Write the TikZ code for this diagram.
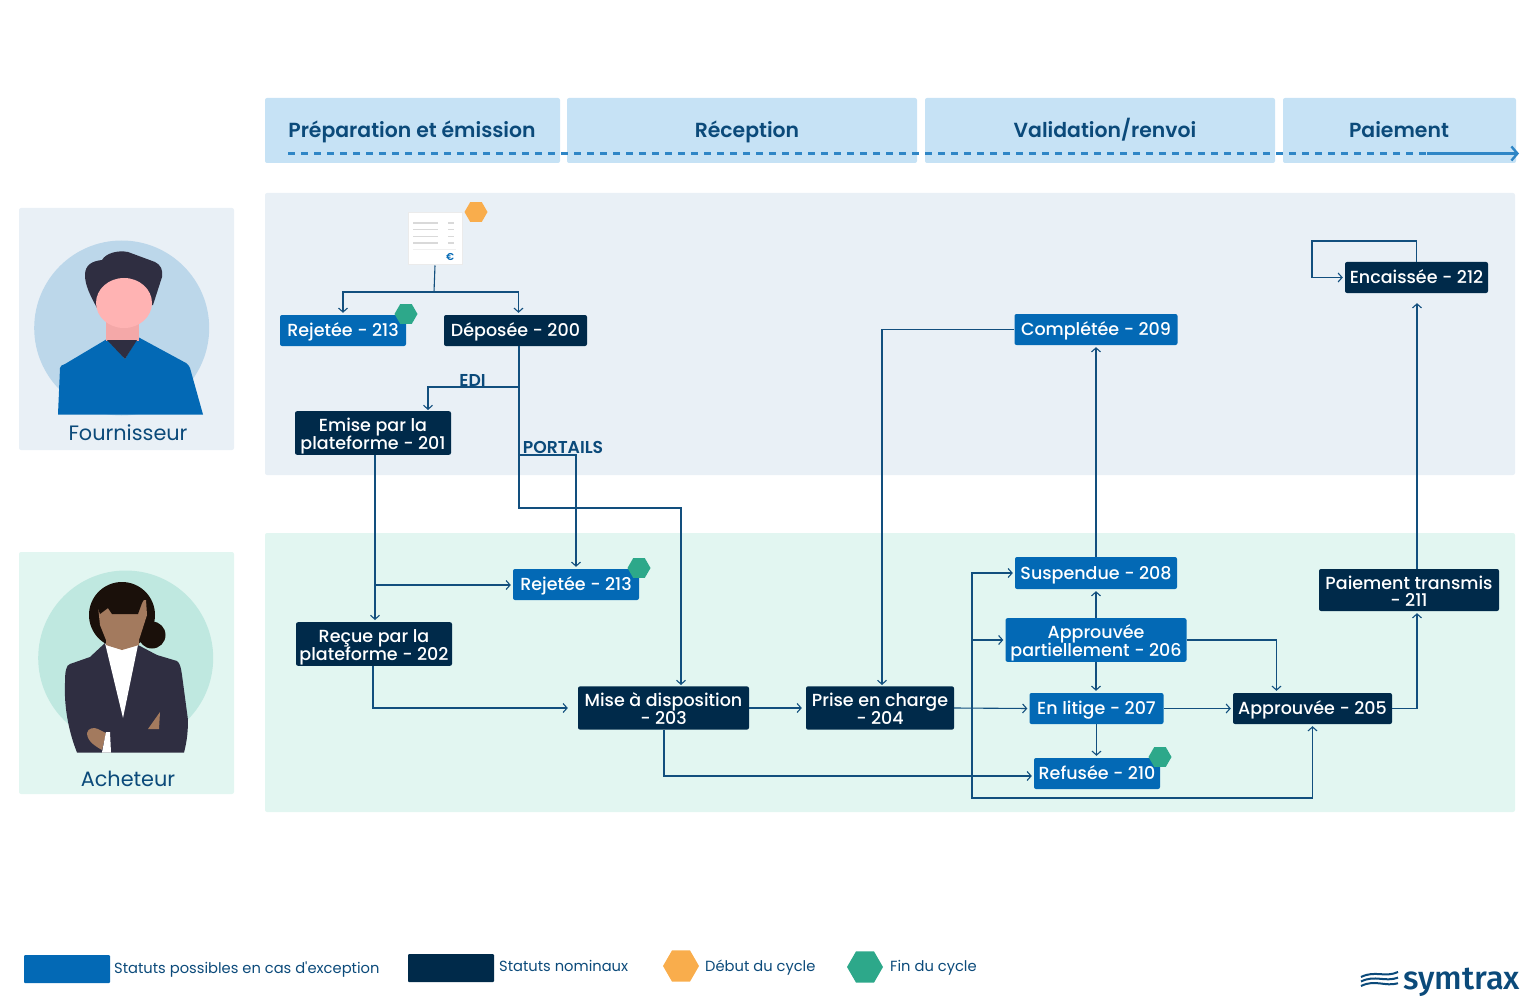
\documentclass[tikz,border=0pt]{standalone}
\usepackage{fontspec}
\setmainfont{Poppins}[UprightFont=* Medium, BoldFont=* SemiBold]
\newfontfamily\plainfont{Poppins}
\newfontfamily\logofont{Fira Sans Medium}
\usetikzlibrary{shapes.geometric, arrows.meta, calc}
\definecolor{navy}{HTML}{002A4A}
\definecolor{blu}{HTML}{0369B5}
\definecolor{ink}{HTML}{0B4A7A}
\definecolor{wire}{HTML}{124F7E}
\definecolor{sky}{HTML}{C6E2F5}
\definecolor{paleblue}{HTML}{E9F0F6}
\definecolor{palegreen}{HTML}{E2F6F1}
\definecolor{dashblue}{HTML}{2F86C6}
\definecolor{orangehex}{HTML}{F9AD4C}
\definecolor{greenhex}{HTML}{2DA88A}
\definecolor{suit}{HTML}{2F2E41}
\definecolor{skin}{HTML}{A37A5E}
\definecolor{pink}{HTML}{FFB3B3}
\definecolor{neck}{HTML}{F4A8A8}
\definecolor{hair}{HTML}{1A100A}
\definecolor{discblue}{HTML}{BCD7EA}
\definecolor{discgreen}{HTML}{BFE8E0}
\newcommand{\twolines}[2]{\rule{0pt}{20pt}#1\\[-0.5pt]#2\rule[-5pt]{0pt}{5pt}}
\tikzstyle{statusbox} = [rectangle, rounded corners=2pt, fill=navy, text=white, inner sep=0pt, align=center, font=\fontsize{17.5}{17.5}\selectfont]
\tikzstyle{nominal} = [statusbox, minimum height=31pt, text height=16pt, text depth=4pt]
\tikzstyle{exception} = [nominal, fill=blu]
\tikzstyle{nominaltwo} = [statusbox, minimum height=42pt]
\tikzstyle{exceptiontwo} = [nominaltwo, fill=blu]
\tikzstyle{phase} = [rectangle, rounded corners=2pt, fill=sky, minimum height=65pt, inner sep=0pt]
\tikzstyle{phasetext} = [text=ink, anchor=base, font=\fontsize{20.4}{20}\selectfont\bfseries, inner sep=0pt]
\tikzstyle{panel} = [rectangle, rounded corners=2pt, inner sep=0pt]
\tikzstyle{hexa} = [regular polygon, regular polygon sides=6, inner sep=0pt, minimum size=23pt]
\tikzstyle{arrow} = [draw=wire, line width=1.1pt, -{Straight Barb[length=4pt,width=9pt]}, shorten >=2pt]
\tikzstyle{link} = [draw=wire, line width=1.1pt]
\tikzstyle{legendtext} = [text=ink, anchor=base west, inner sep=0pt, font=\fontsize{14.7}{15}\plainfont]
\tikzstyle{actor} = [text=ink, inner sep=0pt, anchor=base, font=\fontsize{20.8}{20}\plainfont]
\tikzstyle{channel} = [text=ink, inner sep=0pt, anchor=base, font=\fontsize{17.2}{17}\selectfont\bfseries]

\begin{document}
\begin{tikzpicture}[x=1pt, y=-1pt]
	\useasboundingbox (0,0) rectangle (1536,1000);

	\node (prep) [phase, minimum width=295pt] at (412.5,130.5) {};
	\node (recep) [phase, minimum width=350pt] at (742,130.5) {};
	\node (valid) [phase, minimum width=350pt] at (1100,130.5) {};
	\node (paie) [phase, minimum width=233pt] at (1399.5,130.5) {};
	\node (preptext) [phasetext] at (412,138) {Préparation et émission};
	\node (receptext) [phasetext] at (747,138) {Réception};
	\node (validtext) [phasetext] at (1105,138) {Validation/renvoi};
	\node (paietext) [phasetext] at (1399,138) {Paiement};
	\coordinate (linestart) at (288,153.5);
	\coordinate (linemid) at (1427,153.5);
	\coordinate (lineend) at (1519,153.5);
	\draw[dashblue, line width=2.4pt, dash pattern=on 6.5pt off 6.5pt] (linestart) -- (linemid);
	\draw[dashblue, line width=2.4pt, -{Straight Barb[length=6pt,width=14pt]}] (linemid) -- (lineend);

	\node (zonesup) [panel, fill=paleblue, minimum width=1250pt, minimum height=282pt] at (890,334) {};
	\node (zonebuy) [panel, fill=palegreen, minimum width=1250pt, minimum height=279pt] at (890,672.5) {};
	\node (cardsup) [panel, fill=paleblue, minimum width=215pt, minimum height=242pt] at (126.5,329) {};
	\node (cardbuy) [panel, fill=palegreen, minimum width=215pt, minimum height=242pt] at (126.5,673) {};

	% fournisseur
	\fill[discblue] (121.7,328) circle (87.5);
	\fill[blu] (58,414.5) -- (60,368) .. controls (60,366) and (62,365) .. (65,364) -- (107,339) -- (125,359) -- (138,337) -- (186,363) .. controls (188,364) and (189,366) .. (190,368) -- (203,414.5) -- cycle;
	\fill[neck] (106,318) rectangle (138.5,341);
	\fill[suit] (107,340) -- (137,340) -- (125,359) -- cycle;
	\fill[suit] (97,308) .. controls (90,295) and (85,285) .. (85,275) .. controls (85,265) and (92,261) .. (102,260) .. controls (106,253) and (118,250) .. (128,252) -- (155,262) .. controls (161,265) and (163,270) .. (162,277) -- (153,305) -- cycle;
	\fill[pink] (124,303) ellipse (28 and 25);

	% acheteur
	\fill[discgreen] (125.7,658) circle (87.5);
	\fill[suit] (77,752.5) .. controls (68,730) and (64,705) .. (65,683) .. controls (65,672) and (66,665) .. (70,664) -- (90,657) -- (105,643) -- (138,645) -- (157,655) -- (177,661) .. controls (180,663) and (181,668) .. (182,675) -- (188,720) .. controls (188,735) and (186,745) .. (184,752.5) -- cycle;
	\fill[white] (105,643) -- (138,645) -- (123,718) -- cycle;
	\fill[hair] (152,635) circle (13.5);
	\fill[hair] (122,615) circle (33);
	\fill[skin] (98,606) -- (100,625) -- (106,640) -- (106,645) -- (122,650) -- (139,645) -- (139,640) -- (147,615) -- (146,600) -- cycle;
	\fill[hair] (95,600) -- (100,614) -- (108,608) -- (112,614) -- (138,614) -- (142,603) -- (145,597) -- (125,590) -- cycle;
	\fill[skin] (160,712) -- (148,729) -- (159,729) -- cycle;
	\fill[skin] (87,733) .. controls (88,728) and (94,727) .. (98,729) -- (106,733) -- (102,750) .. controls (95,746) and (87,741) .. (87,733) -- cycle;
	\fill[white] (106,732) -- (110,732) -- (111,752.5) -- (102,752.5) -- cycle;

	\node (supname) [actor] at (128,440) {Fournisseur};
	\node (buyname) [actor] at (128,786) {Acheteur};

	% facture
	\node (doc) [rectangle, fill=white, draw=black!8, line width=1pt, minimum width=54pt, minimum height=52pt, inner sep=0pt] at (435,239) {};
	\foreach \y in {223,229.7,236.5,243}
		\draw[black!15, line width=1.2pt] (413,\y) -- (438,\y) (448,\y) -- (454,\y);
	\draw[black!6, line width=1pt] (413,250) -- (456,250);
	\node (euro) [text=blu, inner sep=0pt, font=\fontsize{10}{10}\selectfont\bfseries] at (450,257) {€};

	\node (rejsup) [exception, minimum width=126pt] at (343,330.5) {Rejetée - 213};
	\node (dep) [nominal, minimum width=143pt] at (515.5,330.5) {Déposée - 200};
	\node (emise) [nominaltwo, minimum width=156pt] at (373,433) {\twolines{Emise par la}{plateforme - 201}};
	\node (recue) [nominaltwo, minimum width=156pt] at (374,644) {\twolines{Reçue par la}{plateforme - 202}};
	\node (rejbuy) [exception, minimum width=126pt] at (576,584.5) {Rejetée - 213};
	\node (mise) [nominaltwo, minimum width=171pt] at (663.5,708) {\twolines{Mise à disposition}{- 203}};
	\node (prise) [nominaltwo, minimum width=148pt] at (880,708) {\twolines{Prise en charge}{- 204}};
	\node (comp) [exception, minimum width=163pt] at (1096,329.5) {Complétée - 209};
	\node (susp) [exception, minimum width=162pt, minimum height=32pt] at (1096,573) {Suspendue - 208};
	\node (part) [exceptiontwo, minimum width=181pt] at (1096,640) {\twolines{Approuvée}{partiellement - 206}};
	\node (litige) [exception, minimum width=134pt] at (1096.5,708.5) {En litige - 207};
	\node (refus) [exception, minimum width=126pt] at (1097,773.5) {Refusée - 210};
	\node (appr) [nominal, minimum width=159pt] at (1312.5,708.5) {Approuvée - 205};
	\node (transm) [nominaltwo, minimum width=180pt] at (1409,590) {\twolines{Paiement transmis}{- 211}};
	\node (encais) [nominal, minimum width=143pt] at (1416.5,277.5) {Encaissée - 212};

	\coordinate (fork) at (434,292);
	\coordinate (depout) at (519,346);
	\coordinate (edibend) at (519,387);
	\coordinate (emisein) at (428,412);
	\coordinate (portbend) at (519,455);
	\coordinate (longbend) at (519,508);
	\coordinate (misein) at (681,687);
	\coordinate (rejbranch) at (375,585);
	\coordinate (bus) at (972,708);
	\coordinate (busbottom) at (972,798);
	\coordinate (buspart) at (972,640);
	\coordinate (prisein) at (882,687);
	\coordinate (loopbend) at (1312,241);

	\draw[link] (doc.south) -- (fork);
	\draw[arrow] (fork) -| (rejsup.north);
	\draw[arrow] (fork) -| ($(dep.north)+(3,0)$);
	\draw[arrow] (depout) -- (edibend) -| (emisein);
	\draw[arrow] (depout) -- (longbend) -| (misein);
	\draw[arrow] (portbend) -| (rejbuy.north);
	\draw[arrow] ($(emise.south)+(2,0)$) -- ($(recue.north)+(1,0)$);
	\draw[arrow] (rejbranch) -- (rejbranch -| rejbuy.west);
	\draw[arrow] ($(recue.south)+(-1,0)$) |- ($(mise.west)+(-8,0)$);
	\draw[arrow] (mise.east) -- ($(prise.west)+(-2,0)$);
	\draw[arrow] (prise.east) -- (litige.west);
	\draw[arrow] (bus) |- (susp.west);
	\draw[arrow] (buspart) -- (part.west);
	\draw[arrow] (bus) -- (busbottom) -| (appr.south);
	\draw[arrow] ($(mise.south)+(0.5,0)$) |- ($(refus.west)+(0,2.5)$);
	\draw[arrow] (comp.west) -| (prisein);
	\draw[arrow] (susp.north) -- (comp.south);
	\draw[arrow] (part.north) -- (susp.south);
	\draw[arrow] (part.south) -- (part.south |- litige.north);
	\draw[arrow] (litige.south) -- (litige.south |- refus.north);
	\draw[arrow] (litige.east) -- (appr.west);
	\draw[arrow] (part.east) -| ($(appr.north)+(-36,0)$);
	\draw[arrow] (appr.east) -| ($(transm.south)+(8,0)$);
	\draw[arrow] ($(transm.north)+(8,0)$) -- ($(encais.south)+(0.5,8)$);
	\draw[arrow] (encais.north) |- (loopbend) |- (encais.west);

	\node (edi) [channel] at (472.5,386) {EDI};
	\node (portails) [channel] at (563,453) {PORTAILS};

	\node (start) [hexa, fill=orangehex] at (476,212) {};
	\node (endsup) [hexa, fill=greenhex] at (406,314) {};
	\node (endbuy) [hexa, fill=greenhex] at (639,568) {};
	\node (endref) [hexa, fill=greenhex] at (1160,757) {};

	\node (legexc) [rectangle, fill=blu, rounded corners=1pt, minimum width=86pt, minimum height=28pt] at (67,969) {};
	\node (legexctext) [legendtext] at (114,973) {Statuts possibles en cas d'exception};
	\node (legnom) [rectangle, fill=navy, rounded corners=1pt, minimum width=86pt, minimum height=28pt] at (451,968) {};
	\node (legnomtext) [legendtext] at (499,971) {Statuts nominaux};
	\node (legstart) [hexa, fill=orangehex, minimum size=36pt] at (681,966) {};
	\node (legstarttext) [legendtext] at (705,971) {Début du cycle};
	\node (legend) [hexa, fill=greenhex, minimum size=36pt] at (865,967) {};
	\node (legendtext) [legendtext] at (890,971) {Fin du cycle};

	\foreach \d in {0,4.5,9}
		\draw[ink, line width=2pt] (1361,977+\d) .. controls (1375,970+\d) and (1385,978+\d) .. (1398,972+\d+\d/4);
	\node (logo) [text=ink, anchor=base west, inner sep=0pt, font=\fontsize{32.5}{32}\logofont] at (1403,989) {symtrax};
\end{tikzpicture}
\end{document}
